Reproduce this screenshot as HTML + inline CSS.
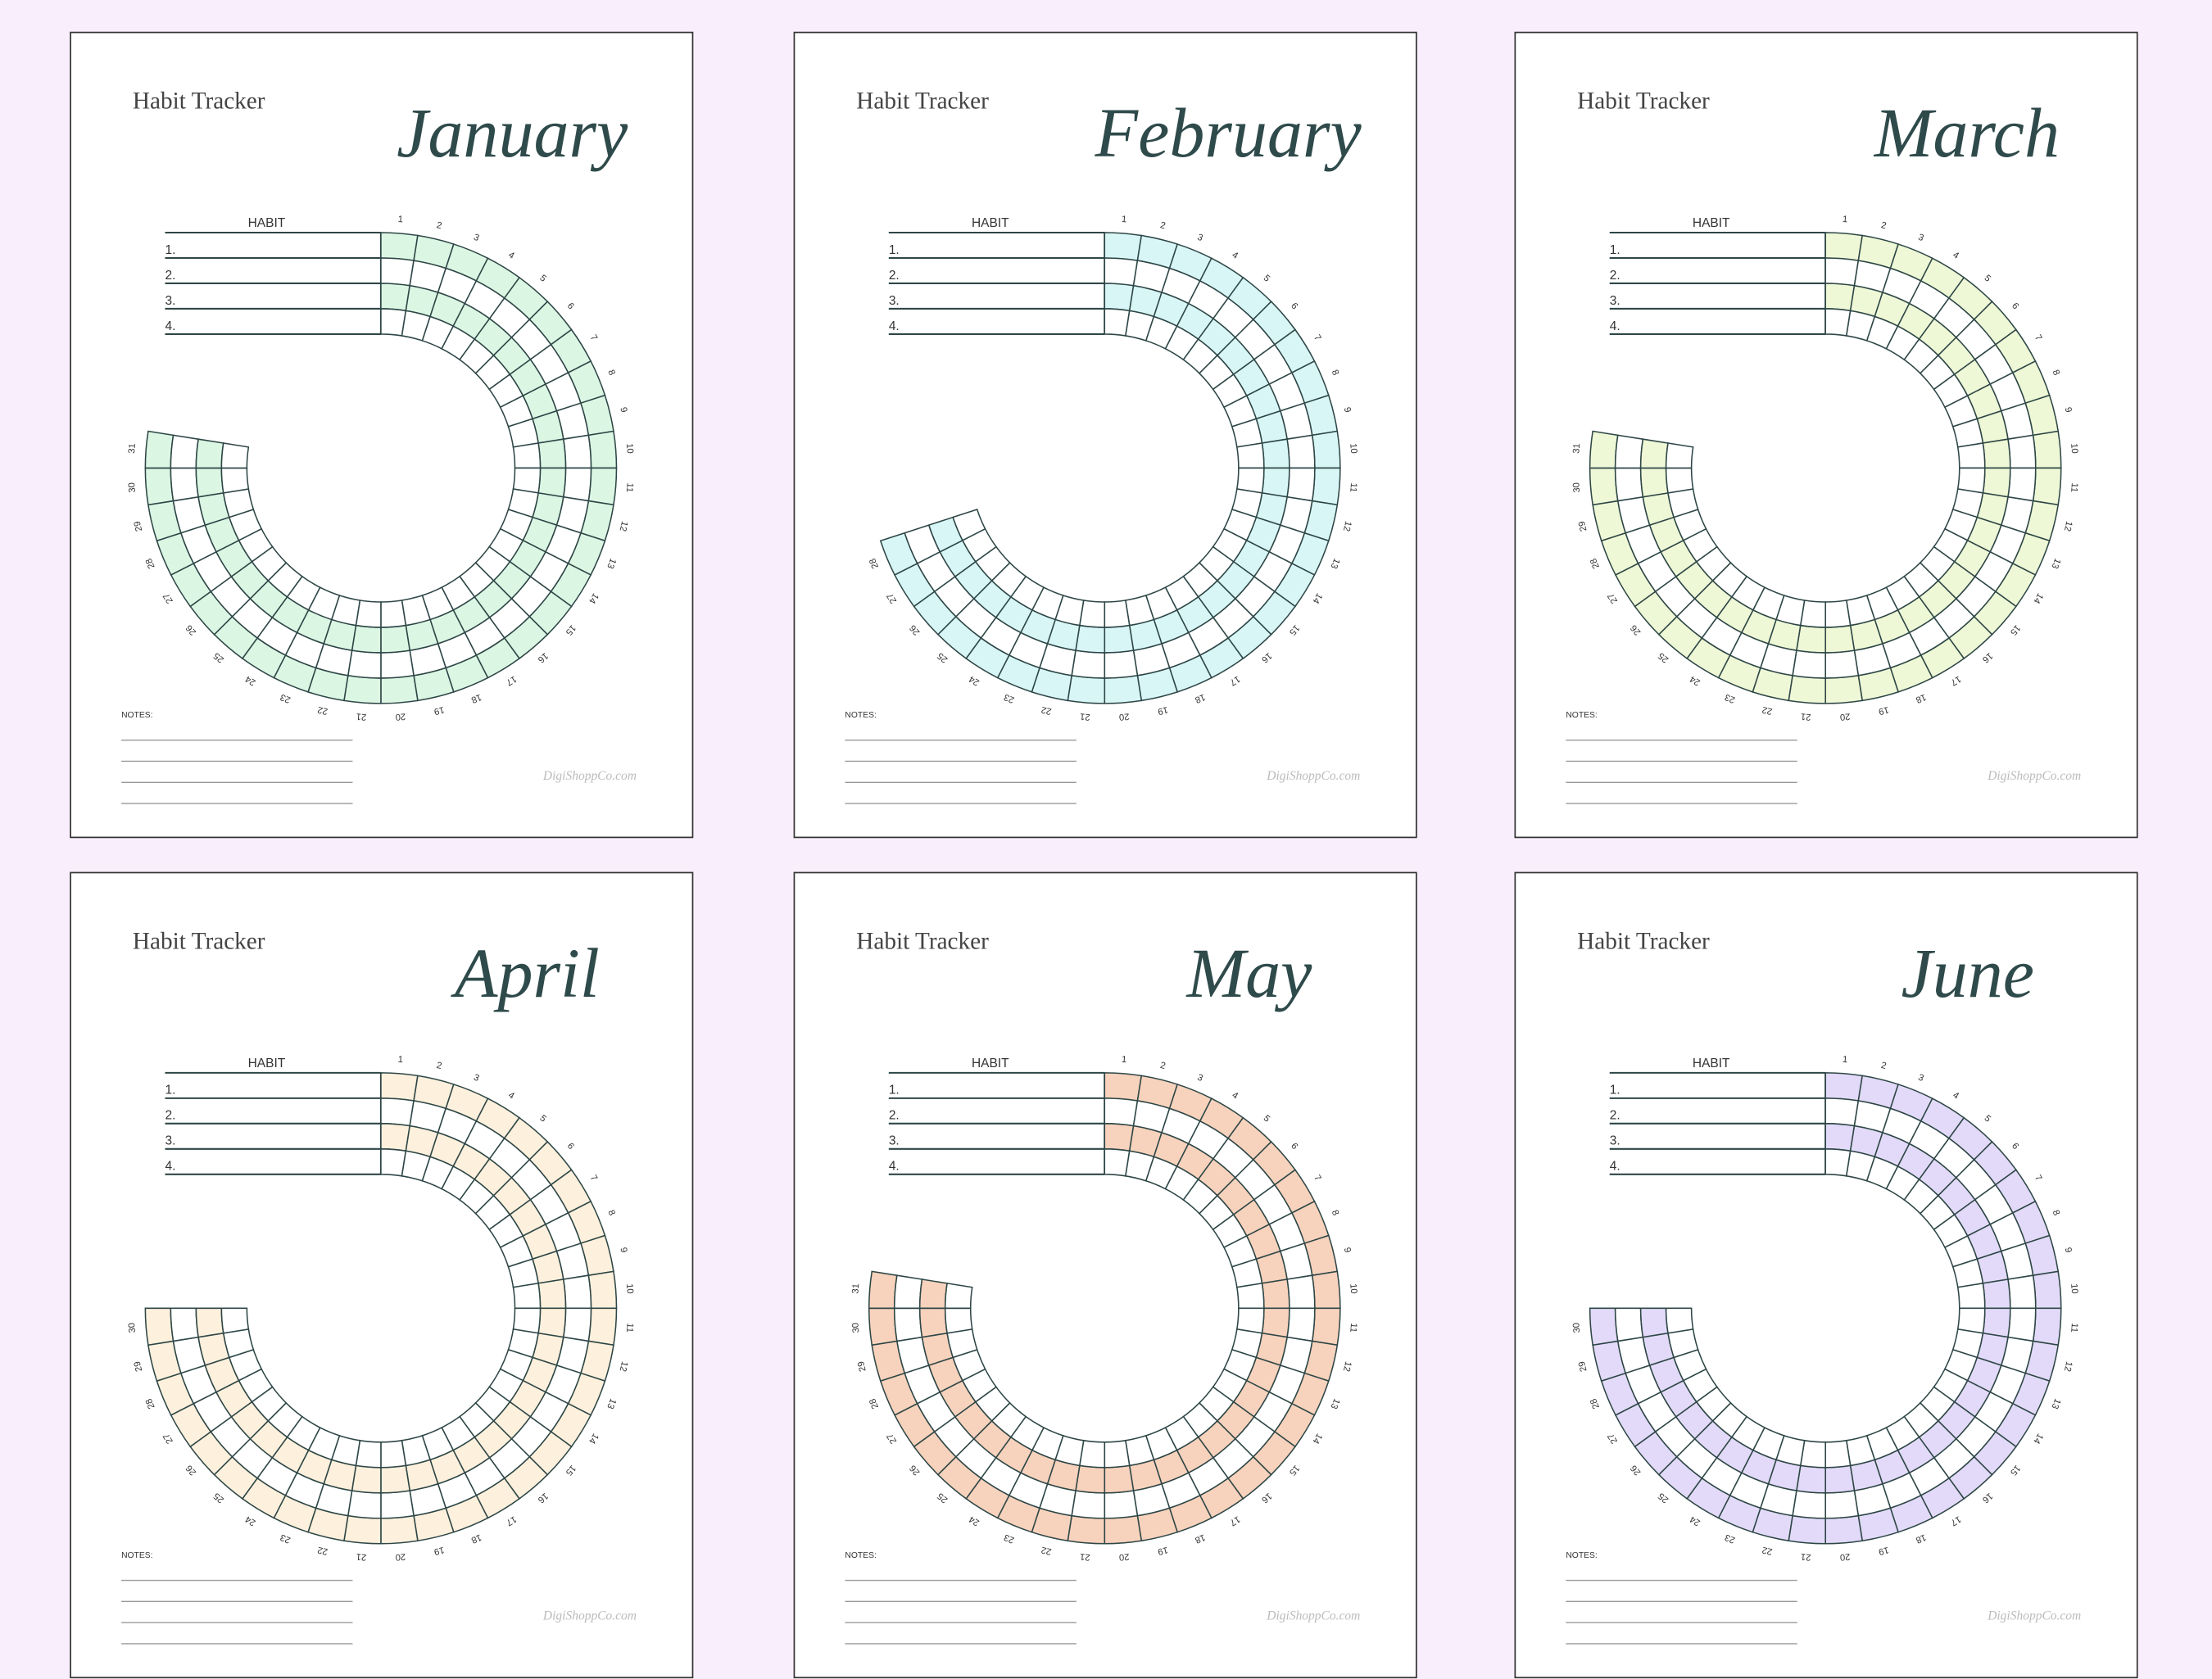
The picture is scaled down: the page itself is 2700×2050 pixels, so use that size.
<!DOCTYPE html>
<html><head><meta charset="utf-8"><style>
html,body{margin:0;padding:0;background:#f9eefb;}
svg{display:block}
</style></head><body>
<svg id="chart" xmlns="http://www.w3.org/2000/svg" width="2700" height="2050" viewBox="0 0 1568 1191" preserveAspectRatio="none">
<rect x="0" y="0" width="1568" height="1191" fill="#f9eefb"/>
</svg>
<script>
const months = ["January","February","March","April","May","June"];
const daysInMonth = [31,28,31,30,31,30];
const ringColors = ["#dcf6e4","#d9f6f7","#eef8d6","#fdf0dc","#f7d2bc","#e2daf8"];
const habitLabels = ["1.","2.","3.","4."];
const degPerDay = 9;

const NS="http://www.w3.org/2000/svg";
const svg=document.getElementById('chart');
const pageX=[50,563,1074], pageY=[23,619];
const titleEnd=[395,402,386,375,367,368];
function mk(tag,attrs,parent){const e=document.createElementNS(NS,tag);for(const k in attrs)e.setAttribute(k,attrs[k]);parent.appendChild(e);return e;}
function pt(cx,cy,r,a){const t=a*Math.PI/180;return [cx+r*Math.sin(t),cy-r*Math.cos(t)];}
function sector(cx,cy,r1,r2,a1,a2){
  const p1=pt(cx,cy,r2,a1),p2=pt(cx,cy,r2,a2),p3=pt(cx,cy,r1,a2),p4=pt(cx,cy,r1,a1);
  return `M${p1[0]},${p1[1]} A${r2},${r2} 0 0 1 ${p2[0]},${p2[1]} L${p3[0]},${p3[1]} A${r1},${r1} 0 0 0 ${p4[0]},${p4[1]} Z`;
}
const ink="#2e4646";
months.forEach((m,i)=>{
  const ox=pageX[i%3], oy=pageY[Math.floor(i/3)];
  const g=mk('g',{transform:`translate(${ox},${oy})`},svg);
  
  
  const pg=mk('rect',{x:0,y:0,width:441,height:571,fill:"#fff",stroke:"#333","stroke-width":1},g);
  
  
  const ht=mk('text',{x:44,y:54,"font-family":"Liberation Serif, serif","font-size":17,fill:"#444"},g);
  ht.textContent="Habit Tracker";
  
  
  const tt=mk('text',{x:titleEnd[i],y:88,"text-anchor":"end","font-family":"Liberation Serif, serif","font-style":"italic","font-size":50,fill:"#2f4a4a"},g);
  tt.textContent=m;
  
  
  const hb=mk('text',{x:139,y:138,"text-anchor":"middle","font-family":"Liberation Sans, sans-serif","font-size":9,fill:"#333"},g);
  hb.textContent="HABIT";
  
  
  for(let k=0;k<5;k++){
    const l=mk('line',{x1:67,y1:142+18*k,x2:220,y2:142+18*k,stroke:ink,"stroke-width":1.2},g);
    
    
  }
  habitLabels.forEach((h,k)=>{
    const t=mk('text',{x:67,y:157+18*k,"font-family":"Liberation Sans, sans-serif","font-size":9,fill:"#333"},g);
    t.textContent=h;
    
    
  });
  mk('line',{x1:220,y1:142,x2:220,y2:214,stroke:ink,"stroke-width":1.2},g);
  const cx=220, cy=309;
  const days=daysInMonth[i];
  for(let d=0;d<days;d++){
    for(let k=0;k<4;k++){
      const r2=167-18*k, r1=r2-18;
      const p=mk('path',{d:sector(cx,cy,r1,r2,d*degPerDay,(d+1)*degPerDay),fill:(k%2==0?ringColors[i]:"#fff"),stroke:ink,"stroke-width":0.9},g);
      
      
    }
    const a=(d+0.5)*degPerDay;
    const q=pt(cx,cy,175,a);
    const t=mk('text',{x:q[0],y:q[1],"text-anchor":"middle","font-family":"Liberation Sans, sans-serif","font-size":6.5,fill:"#333",transform:`rotate(${a} ${q[0]} ${q[1]})`},g);
    t.textContent=String(d+1);
    
    
  }
  const nt=mk('text',{x:36,y:486,"font-family":"Liberation Sans, sans-serif","font-size":6,fill:"#333"},g);
  nt.textContent="NOTES:";
  
  
  for(let k=0;k<4;k++){
    const l=mk('line',{x1:36,y1:502+15*k,x2:200,y2:502+15*k,stroke:"#999","stroke-width":0.8},g);
    
    
  }
  const wm=mk('text',{x:335,y:530,"font-family":"Liberation Serif, serif","font-style":"italic","font-size":9,fill:"#bbb"},g);
  wm.textContent="DigiShoppCo.com";
  
  
});
</script>
</body></html>
